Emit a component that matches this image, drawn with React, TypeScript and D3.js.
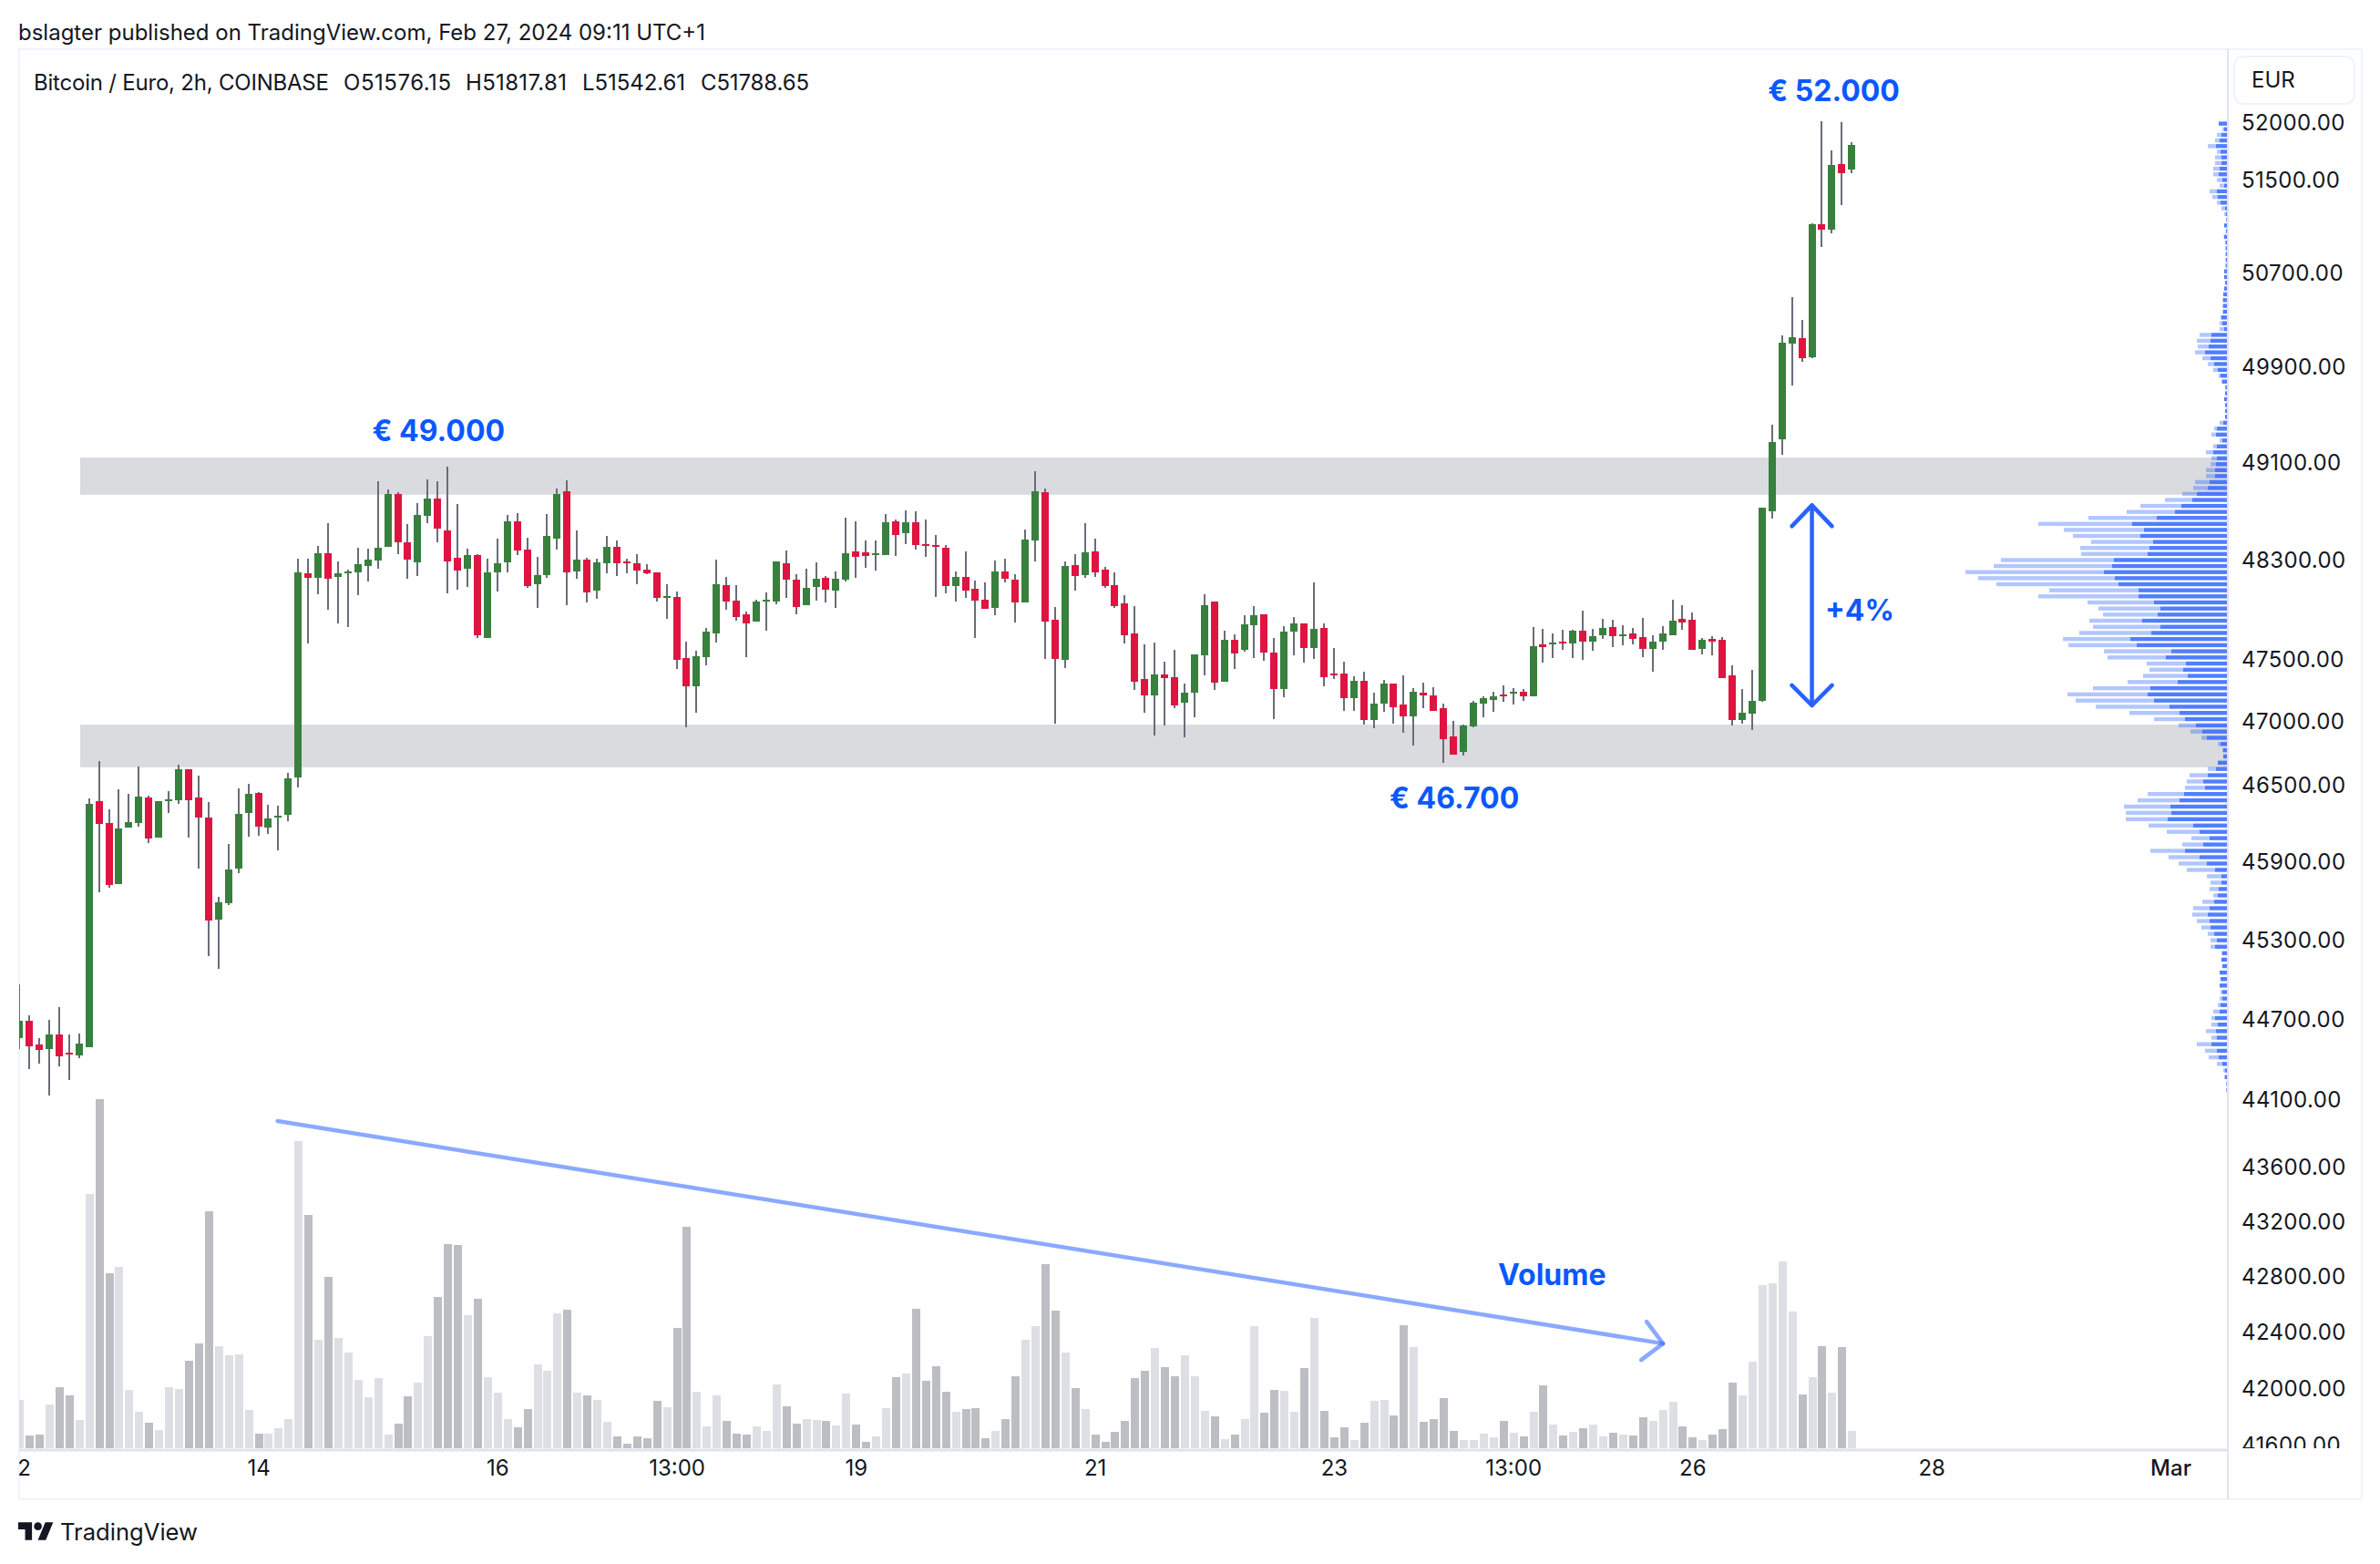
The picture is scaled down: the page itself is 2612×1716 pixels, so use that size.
import { useEffect, useRef } from 'react';
import * as d3 from 'd3';

const WIDTH = 2612;
const HEIGHT = 1716;

// 2h candles, first one is Feb 12 00:00 (bar -24 counted from Feb 14 00:00)
const firstBar = -24;

const opens = [
  44545,44678,44499,44466,44575,44436,44416,44479,46364,46194,
  45722,46159,46194,46392,46081,46364,46371,46614,46392,46236,
  45448,45575,45842,46271,46427,46159,46236,46257,46548,48178,
  48146,48346,48153,48178,48192,48242,48285,48396,48830,48434,
  48271,48652,48793,48532,48310,48221,48332,47658,48185,48271,
  48604,48375,48095,48167,48463,48852,48199,48293,48042,48263,
  48396,48278,48263,48211,48189,47983,47990,47498,47272,47505,
  47695,48086,47961,47850,47791,47953,47953,48263,48130,47924,
  48071,48145,48042,48130,48359,48352,48330,48330,48606,48509,
  48598,48418,48411,48389,48079,48152,48056,47968,47902,48197,
  48130,47946,48449,48846,47806,47483,48248,48167,48359,48211,
  48086,47938,47695,47330,47199,47367,47345,47141,47221,47520,
  47953,47309,47643,47563,47761,47849,47541,47250,47709,47776,
  47578,47739,47374,47374,47177,47316,47003,47134,47294,47126,
  47032,47221,47199,47097,46873,46751,46952,47134,47163,47207,
  47214,47228,47192,47607,47607,47629,47614,47717,47629,47680,
  47746,47672,47695,47665,47570,47629,47680,47813,47805,47570,
  47651,47643,47359,47003,47053,47156,48686,49283,50087,50133,
  49966,51106,51059,51627,51576.15,
];

const highs = [
  44953,44718,44545,44685,44778,44575,44582,46385,46680,46298,
  46458,46420,46635,46406,46364,46441,46649,46614,46566,46357,
  45623,46033,46465,46500,46434,46337,46327,46586,48303,48303,
  48403,48590,48278,48214,48389,48382,48935,48866,48844,48583,
  48753,48950,48935,49055,48746,48382,48339,48303,48463,48659,
  48673,48470,48317,48666,48873,48942,48532,48307,48300,48486,
  48449,48300,48337,48256,48189,48093,48034,47629,47556,47739,
  48293,48152,48086,47872,47968,48027,48278,48366,48175,48219,
  48271,48160,48197,48636,48606,48449,48449,48666,48621,48696,
  48688,48621,48494,48411,48197,48359,48123,48108,48285,48300,
  48175,48539,49018,48876,47909,48278,48337,48591,48463,48234,
  48189,48005,47916,47607,47622,47469,47563,47294,47527,48012,
  47953,47717,47687,47842,47916,47849,47658,47754,47827,47776,
  48108,47776,47578,47469,47352,47389,47221,47323,47294,47359,
  47258,47301,47265,47134,46995,46966,47156,47192,47228,47279,
  47258,47250,47746,47731,47695,47724,47724,47879,47731,47813,
  47805,47761,47739,47820,47680,47754,47968,47923,47864,47658,
  47672,47665,47440,47250,47403,48720,49406,50155,50482,50286,
  51113,52000,51745,51992,51817.81,
];

const lows = [
  44466,44313,44357,44117,44333,44231,44396,44479,45657,45688,
  45722,46159,46166,46040,46081,46271,46344,46081,45842,45169,
  45071,45555,45807,46088,46094,46111,45982,46207,46472,47616,
  48013,47888,47777,47749,48006,48117,48221,48396,48339,48138,
  48160,48590,48434,48020,48049,48067,47658,47658,48035,48192,
  48332,48060,47902,48146,48375,47924,48138,47946,47975,48182,
  48160,48182,48093,48175,47953,47813,47410,46945,47061,47440,
  47622,47887,47798,47505,47791,47717,47931,47983,47850,47924,
  47961,47946,47902,48116,48145,48226,48204,48330,48322,48418,
  48374,48315,47990,48020,47953,47983,47658,47894,47842,48108,
  47783,47946,48278,47491,46974,47418,48042,48145,48152,48064,
  47902,47614,47243,47061,46880,46959,47097,46866,47025,47359,
  47243,47309,47410,47549,47498,47476,47010,47185,47520,47461,
  47491,47272,47330,47076,47076,46966,46937,47068,46974,46901,
  46801,47097,47076,46665,46729,46722,46945,47025,47068,47148,
  47126,47156,47192,47461,47498,47563,47498,47483,47556,47651,
  47585,47600,47607,47505,47389,47563,47680,47724,47563,47527,
  47520,47338,46959,46974,46923,47150,48630,49151,49734,49931,
  49963,50911,51027,51271,51542.61,
];

const closes = [
  44678,44486,44459,44575,44410,44423,44506,46344,46187,45715,
  46152,46200,46399,46074,46364,46378,46614,46371,46236,45442,
  45582,45835,46264,46420,46166,46229,46250,46541,48185,48146,
  48346,48138,48178,48199,48256,48296,48389,48830,48434,48296,
  48659,48793,48546,48278,48206,48332,47681,48185,48264,48604,
  48367,48081,48167,48485,48830,48185,48296,48027,48271,48396,
  48263,48263,48204,48182,47983,47998,47483,47272,47512,47710,
  48093,47953,47828,47776,47953,47968,48278,48130,47909,48064,
  48138,48049,48138,48344,48315,48322,48344,48598,48494,48598,
  48411,48403,48396,48079,48152,48042,47961,47894,48197,48138,
  47946,48456,48854,47791,47491,48241,48160,48352,48189,48079,
  47916,47680,47308,47199,47367,47338,47119,47221,47527,47923,
  47301,47643,47534,47768,47842,47541,47250,47709,47776,47578,
  47731,47345,47359,47177,47316,47003,47134,47294,47105,47032,
  47228,47199,47076,46851,46729,46959,47141,47177,47192,47192,
  47228,47192,47592,47585,47622,47614,47717,47629,47672,47739,
  47672,47687,47651,47570,47629,47695,47798,47783,47563,47643,
  47629,47338,47003,47061,47156,48720,49262,50095,50140,49963,
  51106,51059,51620,51547,51788.65,
];

const volumes = [
  53,14,15,48,67,58,31,279,383,192,
  199,64,40,28,20,67,65,96,115,260,
  112,102,103,42,16,16,22,32,337,256,
  119,188,121,105,75,56,77,15,27,57,
  72,123,166,224,223,146,164,78,61,32,
  23,43,92,85,148,152,61,58,53,29,
  13,5,13,11,52,45,132,243,62,24,
  58,30,16,15,24,19,70,46,27,32,
  31,30,25,60,26,7,13,44,78,82,
  153,74,90,62,40,43,44,11,19,32,
  79,119,134,202,151,105,66,43,15,7,
  18,30,77,85,110,89,79,102,79,41,
  35,10,15,32,134,39,64,63,40,88,
  143,41,12,23,9,28,52,53,36,135,
  111,29,32,55,19,9,9,16,12,30,
  17,13,40,69,26,14,18,22,26,13,
  17,15,14,34,30,42,51,24,12,9,
  15,21,72,58,95,179,181,205,150,59,
  78,112,61,111,19,
];

// volume profile, 160 rows from the top price down
const profileTop = 52003.6;
const profileStep = 49.2;
const profileUp = [
  9,3,6,8,12,7,6,6,8,9,
  5,3,11,10,7,2,1,0.7,3,1,
  3,1.7,1.4,1.4,1.4,1.4,3,3,2,3,
  4,4,4,4,6,5,3,17,18,20,
  24,18,14,10,7,5,1.7,2,3,2,
  2,2,4,11,12,5,11,15,11,12,
  13,13,19,21,33,38,50,57,77,104,
  91,95,81,85,87,124,126,135,123,119,
  97,97,80,73,76,93,73,83,106,99,
  61,67,45,48,43,54,84,87,80,63,
  52,46,34,27,22,7,4,4,10,12,
  21,26,24,47,52,62,61,65,37,30,
  19,26,46,30,22,13,6,6,9,10,
  14,19,21,19,18,14,11,13,5,6,
  5,8,7,8,5,5,7,8,13,10,
  12,11,17,11,9,5,2,2,0.5,0.5,
];
const profileTotal = [
  9,5,11,13,21,11,13,13,15,15,
  11,8,19,16,11,6,3,0.7,3,1.3,
  3.5,1.7,1.4,1.4,1.4,1.4,3,3,2,3,
  4,5,5,5,7,8,8,30,33,32,
  35,27,21,15,9,6,1.7,2,3,2,
  2,2,8,14,17,8,15,23,17,18,
  23,23,35,37,49,68,95,110,152,207,
  179,169,149,161,160,248,256,287,273,253,
  195,207,153,141,136,151,147,162,180,174,
  135,131,88,85,92,109,147,175,166,144,
  107,80,53,40,28,10,5,4,10,21,
  41,44,46,87,98,113,111,111,86,66,
  39,49,84,64,53,44,22,18,19,15,
  27,37,38,33,28,21,18,18,6,6,
  5,8,7,8,7,8,10,15,17,17,
  23,17,33,24,20,11,4,3,1,1,
];

const priceTicks = [
  52000,51500,50700,49900,49100,48300,47500,47000,46500,45900,
  45300,44700,44100,43600,43200,42800,42400,42000,41600,
];
const timeTickBars = [-24,0,24,42,60,84,108,126,144,168,192];
const timeTickLabels = ['12','14','16','13:00','19','21','23','13:00','26','28','Mar'];

// zones, annotations (bar, price)
const zones = [
  { hi: 49131, lo: 48824 },
  { hi: 46966, lo: 46629 },
];
const zoneStartBar = -17.89;
const notes = [
  { text: '€ 52.000', bar: 158.2, price: 52265 },
  { text: '€ 49.000', bar: 18.1, price: 49352 },
  { text: '€ 46.700', bar: 120.1, price: 46386 },
  { text: '+4%', bar: 160.8, price: 47879 },
  { text: 'Volume', bar: 129.9, price: 42806 },
];
const moveArrow = { bar: 156, top: 48737, bottom: 47119 };
const volumeArrow = { bar0: 1.94, price0: 43927, bar1: 141.05, price1: 42309 };

const legendTitle = 'Bitcoin / Euro, 2h, COINBASE';
const legendValues = ['O51576.15', 'H51817.81', 'L51542.61', 'C51788.65'];

const FONT = 'Inter, "Noto Sans", sans-serif';
const INK = '#131722';
const BLUE = '#0a58ff';

export default function App() {
  const svgRef = useRef<SVGSVGElement>(null);

  useEffect(() => {
    if (!svgRef.current) return;
    const root = d3.select(svgRef.current);
    root.selectAll('*').remove();

    const pane = { left: 21, right: 2444, top: 55, bottom: 1589 };

    const x = d3.scaleLinear().domain([0, 168]).range([283.5, 2119.7]);
    const y = d3.scaleLog().domain([41600, 52000]).range([1584, 133]);
    const vol = d3.scaleLinear().domain([0, 400]).range([pane.bottom, pane.bottom - 400]);
    const prof = d3.scaleLinear().domain([0, 300]).range([pane.right, pane.right - 300]);

    root.append('rect').attr('width', WIDTH).attr('height', HEIGHT).attr('fill', '#fff');

    const defs = root.append('defs');
    defs.append('clipPath').attr('id', 'pane').append('rect')
      .attr('x', pane.left).attr('y', pane.top)
      .attr('width', pane.right - pane.left).attr('height', pane.bottom - pane.top);
    defs.append('clipPath').attr('id', 'price-axis').append('rect')
      .attr('x', pane.right).attr('y', 118)
      .attr('width', 146).attr('height', pane.bottom - 118);
    defs.append('clipPath').attr('id', 'time-axis').append('rect')
      .attr('x', 21).attr('y', pane.bottom)
      .attr('width', pane.right - 21).attr('height', 56);

    // frame
    root.append('rect')
      .attr('x', 21).attr('y', 54).attr('width', 2571).attr('height', 1591)
      .attr('fill', 'none').attr('stroke', '#f0f3fa').attr('stroke-width', 2);
    root.append('line')
      .attr('x1', 2445).attr('x2', 2445).attr('y1', 54).attr('y2', 1645)
      .attr('stroke', '#e0e3eb').attr('stroke-width', 2);
    root.append('line')
      .attr('x1', 21).attr('x2', 2445).attr('y1', 1591).attr('y2', 1591)
      .attr('stroke', '#e0e3eb').attr('stroke-width', 3);

    const chart = root.append('g').attr('clip-path', 'url(#pane)');

    // Zones
    chart.selectAll('.zone').data(zones).enter().append('rect')
      .attr('x', x(zoneStartBar))
      .attr('width', pane.right - x(zoneStartBar))
      .attr('y', (d) => y(d.hi))
      .attr('height', (d) => y(d.lo) - y(d.hi))
      .attr('fill', '#dadbdf');

    // Volume
    const bars = volumes.map((v, i) => ({
      bar: firstBar + i,
      v,
      open: opens[i],
      high: highs[i],
      low: lows[i],
      close: closes[i],
      up: closes[i] >= opens[i],
    }));

    chart.selectAll('.vol').data(bars).enter().append('rect')
      .attr('x', (d) => Math.round(x(d.bar)) - 4)
      .attr('width', 9)
      .attr('y', (d) => vol(d.v))
      .attr('height', (d) => pane.bottom - vol(d.v))
      .attr('fill', (d) => (d.up ? '#dedfe4' : '#bdbec3'))
      .attr('shape-rendering', 'crispEdges');

    // Wicks then bodies
    chart.selectAll('.wick').data(bars).enter().append('rect')
      .attr('x', (d) => Math.round(x(d.bar)) - 1)
      .attr('width', 2)
      .attr('y', (d) => y(d.high))
      .attr('height', (d) => y(d.low) - y(d.high))
      .attr('fill', '#6a6d78')
      .attr('shape-rendering', 'crispEdges');

    chart.selectAll('.body').data(bars).enter().append('rect')
      .attr('x', (d) => Math.round(x(d.bar)) - 4)
      .attr('width', 8)
      .attr('y', (d) => y(Math.max(d.open, d.close)))
      .attr('height', (d) => Math.max(2, Math.abs(y(d.open) - y(d.close))))
      .attr('fill', (d) => (d.up ? '#38803d' : '#df1440'))
      .attr('shape-rendering', 'crispEdges');

    // Volume profile
    const rows = profileTotal.map((total, k) => ({
      up: profileUp[k],
      total,
      price: profileTop - profileStep * (k + 0.5),
    }));
    const rowH = 4.4;
    chart.selectAll('.row-total').data(rows).enter().append('rect')
      .attr('x', (d) => prof(d.total))
      .attr('width', (d) => prof(d.up) - prof(d.total))
      .attr('y', (d) => y(d.price) - rowH / 2)
      .attr('height', rowH)
      .attr('fill', '#2962ff')
      .attr('fill-opacity', 0.36);
    chart.selectAll('.row-up').data(rows).enter().append('rect')
      .attr('x', (d) => prof(d.up))
      .attr('width', (d) => pane.right - prof(d.up))
      .attr('y', (d) => y(d.price) - rowH / 2)
      .attr('height', rowH)
      .attr('fill', '#2962ff')
      .attr('fill-opacity', 0.82);

    // Arrows
    const ax = x(moveArrow.bar);
    const ay0 = y(moveArrow.top);
    const ay1 = y(moveArrow.bottom);
    const moveLine = d3.line();
    const move = root.append('g')
      .attr('fill', 'none').attr('stroke', '#2962ff')
      .attr('stroke-width', 4.5).attr('stroke-linecap', 'round').attr('stroke-linejoin', 'round');
    move.append('path').attr('d', moveLine([[ax, ay0], [ax, ay1]]));
    move.append('path').attr('d', moveLine([[ax - 22, ay0 + 23], [ax, ay0], [ax + 22, ay0 + 23]]));
    move.append('path').attr('d', moveLine([[ax - 22, ay1 - 22], [ax, ay1], [ax + 22, ay1 - 22]]));

    const tipX = x(volumeArrow.bar1);
    const tipY = y(volumeArrow.price1);
    const trend = root.append('g')
      .attr('fill', 'none').attr('stroke', '#2962ff').attr('stroke-opacity', 0.55)
      .attr('stroke-width', 4.5).attr('stroke-linecap', 'round').attr('stroke-linejoin', 'round');
    trend.append('path').attr('d', moveLine([[x(volumeArrow.bar0), y(volumeArrow.price0)], [tipX, tipY]]));
    trend.append('path').attr('d', moveLine([[tipX - 18, tipY - 24], [tipX, tipY], [tipX - 24, tipY + 18]]));

    // Annotation labels
    root.selectAll('.note').data(notes).enter().append('text')
      .attr('x', (d) => x(d.bar))
      .attr('y', (d) => y(d.price))
      .attr('dy', '0.36em')
      .attr('text-anchor', 'middle')
      .attr('font-family', FONT)
      .attr('font-weight', 700)
      .attr('font-size', 32)
      .attr('fill', BLUE)
      .text((d) => d.text);

    // Axes
    const priceAxis = root.append('g')
      .attr('clip-path', 'url(#price-axis)')
      .append('g')
      .attr('transform', `translate(${pane.right + 1},0)`)
      .call(
        d3.axisRight(y)
          .tickValues(priceTicks)
          .tickSize(0)
          .tickPadding(15)
          .tickFormat((d) => (d as number).toFixed(2)),
      );
    priceAxis.select('.domain').remove();
    priceAxis.selectAll('text')
      .attr('font-family', FONT).attr('font-size', 24).attr('fill', INK)
      .attr('dy', '0.4em').attr('letter-spacing', 0.4);

    const timeAxis = root.append('g')
      .attr('clip-path', 'url(#time-axis)')
      .append('g')
      .attr('transform', `translate(0,${pane.bottom + 1})`)
      .call(
        d3.axisBottom(x)
          .tickValues(timeTickBars)
          .tickSize(0)
          .tickPadding(12)
          .tickFormat((_, i) => timeTickLabels[i]),
      );
    timeAxis.select('.domain').remove();
    timeAxis.selectAll('text')
      .attr('font-family', FONT).attr('font-size', 24).attr('fill', INK)
      .attr('dy', '0.71em');
    timeAxis.selectAll<SVGTextElement, number>('text')
      .attr('font-weight', (d) => (d === 192 ? 500 : 400));

    // Header
    const label = (t: string, lx: number, ly: number, size: number, length?: number) => {
      const node = root.append('text')
        .attr('x', lx).attr('y', ly).attr('dy', '0.36em')
        .attr('font-family', FONT).attr('font-size', size).attr('fill', INK)
        .text(t);
      if (length) node.attr('textLength', length);
      return node;
    };

    label('bslagter published on TradingView.com, Feb 27, 2024 09:11 UTC+1', 20, 35, 24);
    label(legendTitle, 37, 90, 24, 324);
    const legendX = [377, 511, 639, 769];
    const legendW = [118, 111, 113, 119];
    legendValues.forEach((t, i) => label(t, legendX[i], 90, 24, legendW[i]));

    // Currency button
    root.append('rect')
      .attr('x', 2452).attr('y', 62).attr('width', 132).attr('height', 52).attr('rx', 10)
      .attr('fill', '#fff').attr('stroke', '#f0f3fa').attr('stroke-width', 2);
    label('EUR', 2471, 87, 24);

    // Logo
    const logo = root.append('g')
      .attr('transform', 'translate(20,1666) scale(1.08)')
      .attr('fill', INK);
    logo.append('path').attr('d', 'M14 22H7V11H0V4h14v18zM28 22h-8l7.5-18h8L28 22z');
    logo.append('circle').attr('cx', 20).attr('cy', 8).attr('r', 4);
    label('TradingView', 66, 1681, 25.6);
  }, []);

  return (
    <svg
      ref={svgRef}
      width={WIDTH}
      height={HEIGHT}
      style={{ position: 'absolute', left: 0, top: 0, display: 'block' }}
    />
  );
}
